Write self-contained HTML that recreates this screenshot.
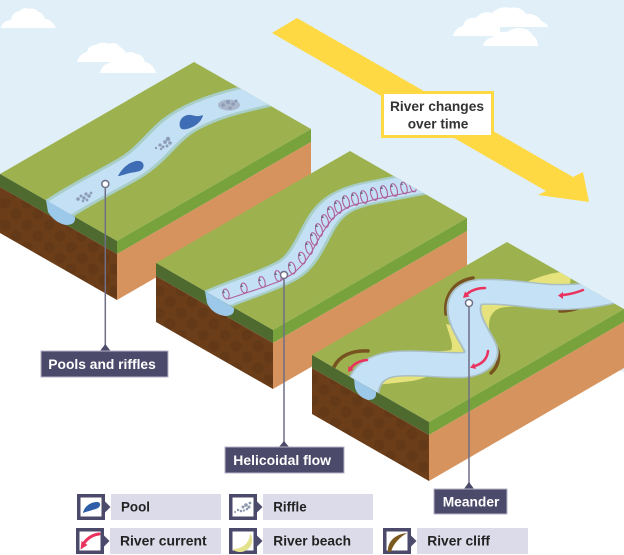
<!DOCTYPE html>
<html><head><meta charset="utf-8"><style>html,body{margin:0;padding:0;background:#fff}svg{display:block}</style></head>
<body>
<svg width="624" height="555" viewBox="0 0 624 555" xmlns="http://www.w3.org/2000/svg" font-family="'Liberation Sans', Arial, sans-serif" font-weight="bold">
<defs>
<pattern id="sp" width="22" height="22" patternUnits="userSpaceOnUse"><rect width="22" height="22" fill="#6b3d18"/><circle cx="5" cy="5" r="5.5" fill="#643917"/><circle cx="16" cy="16" r="5.5" fill="#643917"/></pattern>
<clipPath id="t1"><polygon points="0,174 194,62 311,129 117,241"/></clipPath>
<clipPath id="t2"><polygon points="156,263 350,151 467,218 273,330"/></clipPath>
<clipPath id="t3"><polygon points="312,355 507,242 624,309 429,422"/></clipPath>
</defs>
<rect width="624" height="555" fill="#fff"/>
<polygon points="0,0 624,0 624,372 0,232" fill="#e1eff8"/>
<!-- clouds -->
<g fill="#fff">
<path d="M1,28 C2,23 6,20 11,20 C12,14 16,11 20,11 C22,8 26,7 29,9 C31,8 36,8 38,12 C41,12 44,15 45,19 C49,19 53,22 56,28 Z"/>
<path d="M77,62 C78,57 82,53 87,52 C88,47 92,45 96,45 C99,42 105,42 109,44 C113,42 118,43 120,47 C124,49 127,53 127,57 L127,62 Z"/>
<path d="M100,73 C101,68 104,64 110,63 C112,57 117,55 122,56 C126,51 132,51 136,54 C140,54 144,57 145,62 C150,63 154,67 156,73 Z"/>
<path d="M453,36 C454,31 458,27 463,26 C464,20 470,17 476,18 C479,13 486,11 492,13 C497,8 504,6 510,8 C518,6 524,10 526,14 C533,13 540,17 541,21 C545,22 548,25 548,27 L500,27 L500,36 Z"/>
<path d="M483,46 C484,41 488,38 493,37 C496,33 502,31 507,32 C512,28 520,27 524,29 C528,29 532,33 533,36 C536,37 538,42 538,46 Z"/>
</g>
<!-- yellow arrow -->
<polygon points="272,33 297,18 573,177 583,172 589,202 538,195 546,191" fill="#fed944"/>
<rect x="382.5" y="92.5" width="110" height="44" fill="#fff" stroke="#fed944" stroke-width="3"/>
<text x="390" y="111" font-size="14" fill="#333" textLength="94" lengthAdjust="spacingAndGlyphs">River changes</text>
<text x="407.7" y="128.3" font-size="14" fill="#333" textLength="60.7" lengthAdjust="spacingAndGlyphs">over time</text>

<!-- BLOCK 1 -->
<polygon points="0,174 194,62 311,129 117,241" fill="#9db24f"/>
<polygon points="0,174 117,241 117,254 0,187" fill="#4e6a2f"/>
<polygon points="0,187 117,254 117,300 0,233" fill="url(#sp)"/>
<polygon points="117,241 311,129 311,142 117,254" fill="#78a23b"/>
<polygon points="117,254 311,142 311,188 117,300" fill="#d6935d"/>
<g clip-path="url(#t1)">
<g transform="scale(1,0.75)">
<path d="M45,290.7 C75,262 110,240 130,224 C150,208 160,186.7 175,170.7 C190,154.7 215,141.3 245,132 L300,114.7" fill="none" stroke="#a8cec7" stroke-width="35" stroke-linecap="round"/>
<path d="M45,290.7 C75,262 110,240 130,224 C150,208 160,186.7 175,170.7 C190,154.7 215,141.3 245,132 L300,114.7" fill="none" stroke="#c4e0f4" stroke-width="28" stroke-linecap="round"/>
</g>
<path d="M118,176 C121,170 127,163 136,161 C142,160 145,164 143,168 C141,172 135,172 130,173 C125,174 121,176 118,176 Z" fill="#3f6db5"/>
<path d="M180,127 C178,120 184,114 191,115 C195,116 198,117 203,115 C202,121 196,126 190,128 C185,130 181,130 180,127 Z" fill="#3f6db5"/>
<ellipse cx="229" cy="105" rx="11" ry="5.5" fill="#aab7cb"/>
<g fill="#8d9cb7">
<circle cx="78" cy="199" r="1.8"/><circle cx="81" cy="196" r="1.5"/><circle cx="84" cy="198" r="1.8"/><circle cx="86" cy="194" r="1.6"/><circle cx="89" cy="196" r="1.8"/><circle cx="91" cy="193" r="1.4"/><circle cx="83" cy="201" r="1.3"/><circle cx="87" cy="200" r="1.4"/>
<circle cx="156" cy="148" r="1.2"/><circle cx="160" cy="145" r="1.6"/><circle cx="163" cy="147" r="1.5"/><circle cx="165" cy="142" r="1.9"/><circle cx="168" cy="139" r="2.2"/><circle cx="170" cy="143" r="1.8"/><circle cx="167" cy="146" r="1.5"/><circle cx="161" cy="149" r="1.2"/>
<circle cx="223" cy="105" r="1.8"/><circle cx="228" cy="102" r="2"/><circle cx="233" cy="104" r="1.8"/><circle cx="230" cy="108" r="1.6"/><circle cx="236" cy="101" r="1.5"/>
</g>
</g>
<path d="M46,200 L75,217 Q76,225 66,225 Q55,223 48,212 Z" fill="#9cc8e9"/>

<!-- BLOCK 2 -->
<polygon points="156,263 350,151 467,218 273,330" fill="#9db24f"/>
<polygon points="156,263 273,330 273,343 156,276" fill="#4e6a2f"/>
<polygon points="156,276 273,343 273,389 156,322" fill="url(#sp)"/>
<polygon points="273,330 467,218 467,231 273,343" fill="#78a23b"/>
<polygon points="273,343 467,231 467,277 273,389" fill="#d6935d"/>
<g clip-path="url(#t2)">
<g transform="scale(1,0.75)">
<path d="M200,409 C230,389.3 265,377.3 288,360 C305,346.7 312,317.3 322,296 C332,274.7 345,264 370,257.3 C390,252 410,246.7 450,237.3" fill="none" stroke="#a8cec7" stroke-width="32" stroke-linecap="round"/>
<path d="M200,409 C230,389.3 265,377.3 288,360 C305,346.7 312,317.3 322,296 C332,274.7 345,264 370,257.3 C390,252 410,246.7 450,237.3" fill="none" stroke="#c4e0f4" stroke-width="26" stroke-linecap="round"/>
</g>
<g fill="none" stroke="#b0609a" stroke-width="1.1">
<polyline points="228,299 246,293 264,287 280,281 294,273 304,263 311,253 316,244 321,235 327,226 333,218 340,212 348,207 357,204 366,202 376,199 386,197 396,195 406,193 415,191"/>
<ellipse cx="226" cy="294" rx="3" ry="5" transform="rotate(-15 226 294)"/>
<ellipse cx="244" cy="288" rx="3" ry="5" transform="rotate(-15 244 288)"/>
<ellipse cx="262" cy="282" rx="3" ry="5.5" transform="rotate(-15 262 282)"/>
<ellipse cx="278" cy="276" rx="3" ry="5.5" transform="rotate(-15 278 276)"/>
<ellipse cx="292" cy="268" rx="3.2" ry="6" transform="rotate(-15 292 268)"/>
<ellipse cx="302" cy="258" rx="3.2" ry="6" transform="rotate(-15 302 258)"/>
<ellipse cx="309" cy="248" rx="3.2" ry="6.5" transform="rotate(-15 309 248)"/>
<ellipse cx="314" cy="239" rx="3.2" ry="6.5" transform="rotate(-15 314 239)"/>
<ellipse cx="319" cy="230" rx="3.2" ry="6.5" transform="rotate(-15 319 230)"/>
<ellipse cx="325" cy="221" rx="3.2" ry="6.5" transform="rotate(-15 325 221)"/>
<ellipse cx="331" cy="213" rx="3.2" ry="6.5" transform="rotate(-15 331 213)"/>
<ellipse cx="338" cy="207" rx="3.2" ry="6.5" transform="rotate(-15 338 207)"/>
<ellipse cx="346" cy="202" rx="3.2" ry="6.5" transform="rotate(-15 346 202)"/>
<ellipse cx="355" cy="199" rx="3.2" ry="6.5" transform="rotate(-15 355 199)"/>
<ellipse cx="364" cy="197" rx="3.2" ry="6.5" transform="rotate(-15 364 197)"/>
<ellipse cx="374" cy="194" rx="3.2" ry="6.5" transform="rotate(-15 374 194)"/>
<ellipse cx="384" cy="192" rx="3.2" ry="6.5" transform="rotate(-15 384 192)"/>
<ellipse cx="394" cy="190" rx="3.2" ry="6.5" transform="rotate(-15 394 190)"/>
<ellipse cx="404" cy="188" rx="3" ry="6" transform="rotate(-15 404 188)"/>
<ellipse cx="413" cy="186" rx="3" ry="6" transform="rotate(-15 413 186)"/>
</g>
<g fill="#6d6d7e">
<polygon points="222,293 225,293 223.5,290"/><polygon points="240,287 243,287 241.5,284"/><polygon points="258,281 261,281 259.5,278"/><polygon points="274,275 277,275 275.5,272"/><polygon points="288,266 291,266 289.5,263"/><polygon points="298,256 301,256 299.5,253"/><polygon points="305,245 308,245 306.5,242"/><polygon points="310,236 313,236 311.5,233"/><polygon points="315,227 318,227 316.5,224"/><polygon points="321,218 324,218 322.5,215"/><polygon points="327,210 330,210 328.5,207"/><polygon points="334,204 337,204 335.5,201"/><polygon points="342,199 345,199 343.5,196"/><polygon points="351,196 354,196 352.5,193"/><polygon points="360,194 363,194 361.5,191"/><polygon points="370,191 373,191 371.5,188"/><polygon points="380,189 383,189 381.5,186"/><polygon points="390,187 393,187 391.5,184"/><polygon points="400,185 403,185 401.5,182"/><polygon points="409,183 412,183 410.5,180"/>
</g>
</g>
<path d="M205,291 L234,308 Q235,316 225,316 Q212,314 207,303 Z" fill="#9cc8e9"/>

<!-- BLOCK 3 -->
<polygon points="312,355 507,242 624,309 429,422" fill="#9db24f"/>
<polygon points="312,355 429,422 429,435 312,368" fill="#4e6a2f"/>
<polygon points="312,368 429,435 429,481 312,414" fill="url(#sp)"/>
<polygon points="429,422 624,309 624,322 429,435" fill="#78a23b"/>
<polygon points="429,435 624,322 624,368 429,481" fill="#d6935d"/>
<g clip-path="url(#t3)">
<g fill="#e6e37c">
<path d="M515,287 C530,280 548,273 562,272 C571,272 573,279 568,287 Z"/>
<path d="M515,307 C500,306 494,309 490,318 C488,326 489,332 492,338 L468,330 L468,300 Z"/>
<path d="M446,324 C450,337 454,346 451,350 C441,352 430,351 420,352 L445,362 L472,355 L470,330 Z"/>
<path d="M358,387 C375,385 395,383 412,381 C422,379 430,376 434,373 L434,365 L360,370 Z"/>
</g>
<g fill="none" stroke="#76531f" stroke-width="3.5" stroke-linecap="round">
<path d="M446,314 C444,296 454,281 473,278"/>
<path d="M494,344 C501,352 500,365 491,373"/>
<path d="M334,367 C339,356 352,350 368,351"/>
<path d="M560,311 C575,311 590,305 601,294"/>
</g>
<g transform="scale(1,0.75)">
<path d="M362,522.7 C364,501.3 375,488 395,485.3 C420,482.7 445,488 463,486.7 C478,485.3 484,473.3 480,462.7 C476,450.7 468,437.3 465,421.3 C462,405.3 466,390.7 480,389.3 C495,388 515,390.7 540,394.7 C560,397.3 585,397.3 615,386.7" fill="none" stroke="#a9bfc2" stroke-width="35" stroke-linecap="round"/>
<path d="M362,522.7 C364,501.3 375,488 395,485.3 C420,482.7 445,488 463,486.7 C478,485.3 484,473.3 480,462.7 C476,450.7 468,437.3 465,421.3 C462,405.3 466,390.7 480,389.3 C495,388 515,390.7 540,394.7 C560,397.3 585,397.3 615,386.7" fill="none" stroke="#c5e1f5" stroke-width="31" stroke-linecap="round"/>
</g>
<g fill="none" stroke="#e9335e" stroke-width="2.5" stroke-linecap="round">
<path d="M485,288 Q474,288 467,294"/>
<path d="M583,290 Q573,294 563,295"/>
<path d="M488,351 Q487,362 475,366"/>
<path d="M367,360 Q356,361 351,368"/>
</g>
<g fill="#e9335e">
<polygon points="463,298 465,291.5 469.5,296.5"/>
<polygon points="558,295.5 563,292 563,299"/>
<polygon points="470,367.6 476,369 474,363"/>
<polygon points="348,372 353.5,370 348.5,366"/>
</g>
</g>
<path d="M354,379 L376,392 Q377,400 368,400 Q358,397 355,388 Z" fill="#9cc8e9"/>

<!-- connectors -->
<g stroke="#6f6e85" stroke-width="1.5">
<line x1="105.3" y1="184" x2="105.3" y2="346"/>
<line x1="284" y1="275" x2="284" y2="443"/>
<line x1="469" y1="303" x2="469" y2="484"/>
</g>
<g fill="#fff" stroke="#6f6e85" stroke-width="1.5">
<circle cx="105.3" cy="184" r="3.5"/>
<circle cx="284" cy="275" r="3.5"/>
<circle cx="469" cy="303" r="3.5"/>
</g>
<g fill="#4c4a6a">
<polygon points="99.5,351.5 105.3,344 111,351.5"/>
<polygon points="278.5,447.5 284,441 289.5,447.5"/>
<polygon points="463.5,489.5 469,482 474.5,489.5"/>
</g>
<g fill="#4c4a6a" stroke="#b4b3c6" stroke-width="1">
<rect x="41" y="351" width="127" height="26"/>
<rect x="225" y="447" width="119" height="26"/>
<rect x="434" y="489" width="73" height="25"/>
</g>
<g fill="#fff" font-size="14">
<text x="48.3" y="369" textLength="107.5" lengthAdjust="spacingAndGlyphs">Pools and riffles</text>
<text x="233.3" y="465" textLength="97.7" lengthAdjust="spacingAndGlyphs">Helicoidal flow</text>
<text x="442.7" y="506.7" textLength="56.7" lengthAdjust="spacingAndGlyphs">Meander</text>
</g>

<!-- legend -->
<g fill="#dcdbea">
<rect x="111" y="494" width="110" height="26"/>
<rect x="263" y="494" width="110" height="26"/>
<rect x="110" y="528" width="111" height="26"/>
<rect x="263" y="528" width="110" height="26"/>
<rect x="417" y="528" width="111" height="26"/>
</g>
<g fill="#fff" stroke="#4c4a6a" stroke-width="3.5">
<rect x="78.75" y="495.75" width="24.5" height="22.5"/>
<rect x="230.75" y="495.75" width="24.5" height="22.5"/>
<rect x="77.75" y="529.75" width="24.5" height="22.5"/>
<rect x="230.75" y="529.75" width="24.5" height="22.5"/>
<rect x="384.75" y="529.75" width="24.5" height="22.5"/>
</g>
<g fill="#4c4a6a">
<polygon points="105,501.5 110.5,507 105,512.5"/>
<polygon points="257,501.5 262.5,507 257,512.5"/>
<polygon points="104,535.5 109.5,541 104,546.5"/>
<polygon points="257,535.5 262.5,541 257,546.5"/>
<polygon points="411,535.5 416.5,541 411,546.5"/>
</g>
<path d="M83,513 C84,507 90,502 97,502 C101,502 101,506 98,508 C94,510 88,511 83,513 Z" fill="#2f5ea8"/>
<g fill="#8a97ad">
<circle cx="235" cy="512" r="1"/><circle cx="238" cy="510" r="1.2"/><circle cx="241" cy="511" r="1.3"/><circle cx="243" cy="507" r="1.5"/><circle cx="246" cy="505" r="1.8"/><circle cx="249" cy="507" r="1.5"/><circle cx="247" cy="509" r="1.3"/><circle cx="244" cy="510.5" r="1.1"/><circle cx="250" cy="503" r="1.4"/>
</g>
<path d="M99,534 Q90,535 84,543" fill="none" stroke="#e9335e" stroke-width="3" stroke-linecap="round"/>
<polygon points="80.5,549.5 81.5,541 87.5,545" fill="#e9335e"/>
<path d="M250,533 C255,541 251,551 241,552 C237,552 234,551 233,549 C242,549 250,543 250,533 Z" fill="#e5e28e"/>
<path d="M388,552 C387,542 395,534 407,533 C400,537 393,544 391,552 Z" fill="#7b5a1f"/>
<g fill="#222" font-size="14">
<text x="121" y="511.7" textLength="29" lengthAdjust="spacingAndGlyphs">Pool</text>
<text x="273.3" y="511.7" textLength="33.3" lengthAdjust="spacingAndGlyphs">Riffle</text>
<text x="120" y="545.7" textLength="86.7" lengthAdjust="spacingAndGlyphs">River current</text>
<text x="273.3" y="545.7" textLength="77.7" lengthAdjust="spacingAndGlyphs">River beach</text>
<text x="427.3" y="545.7" textLength="62.7" lengthAdjust="spacingAndGlyphs">River cliff</text>
</g>
</svg>
</body></html>
